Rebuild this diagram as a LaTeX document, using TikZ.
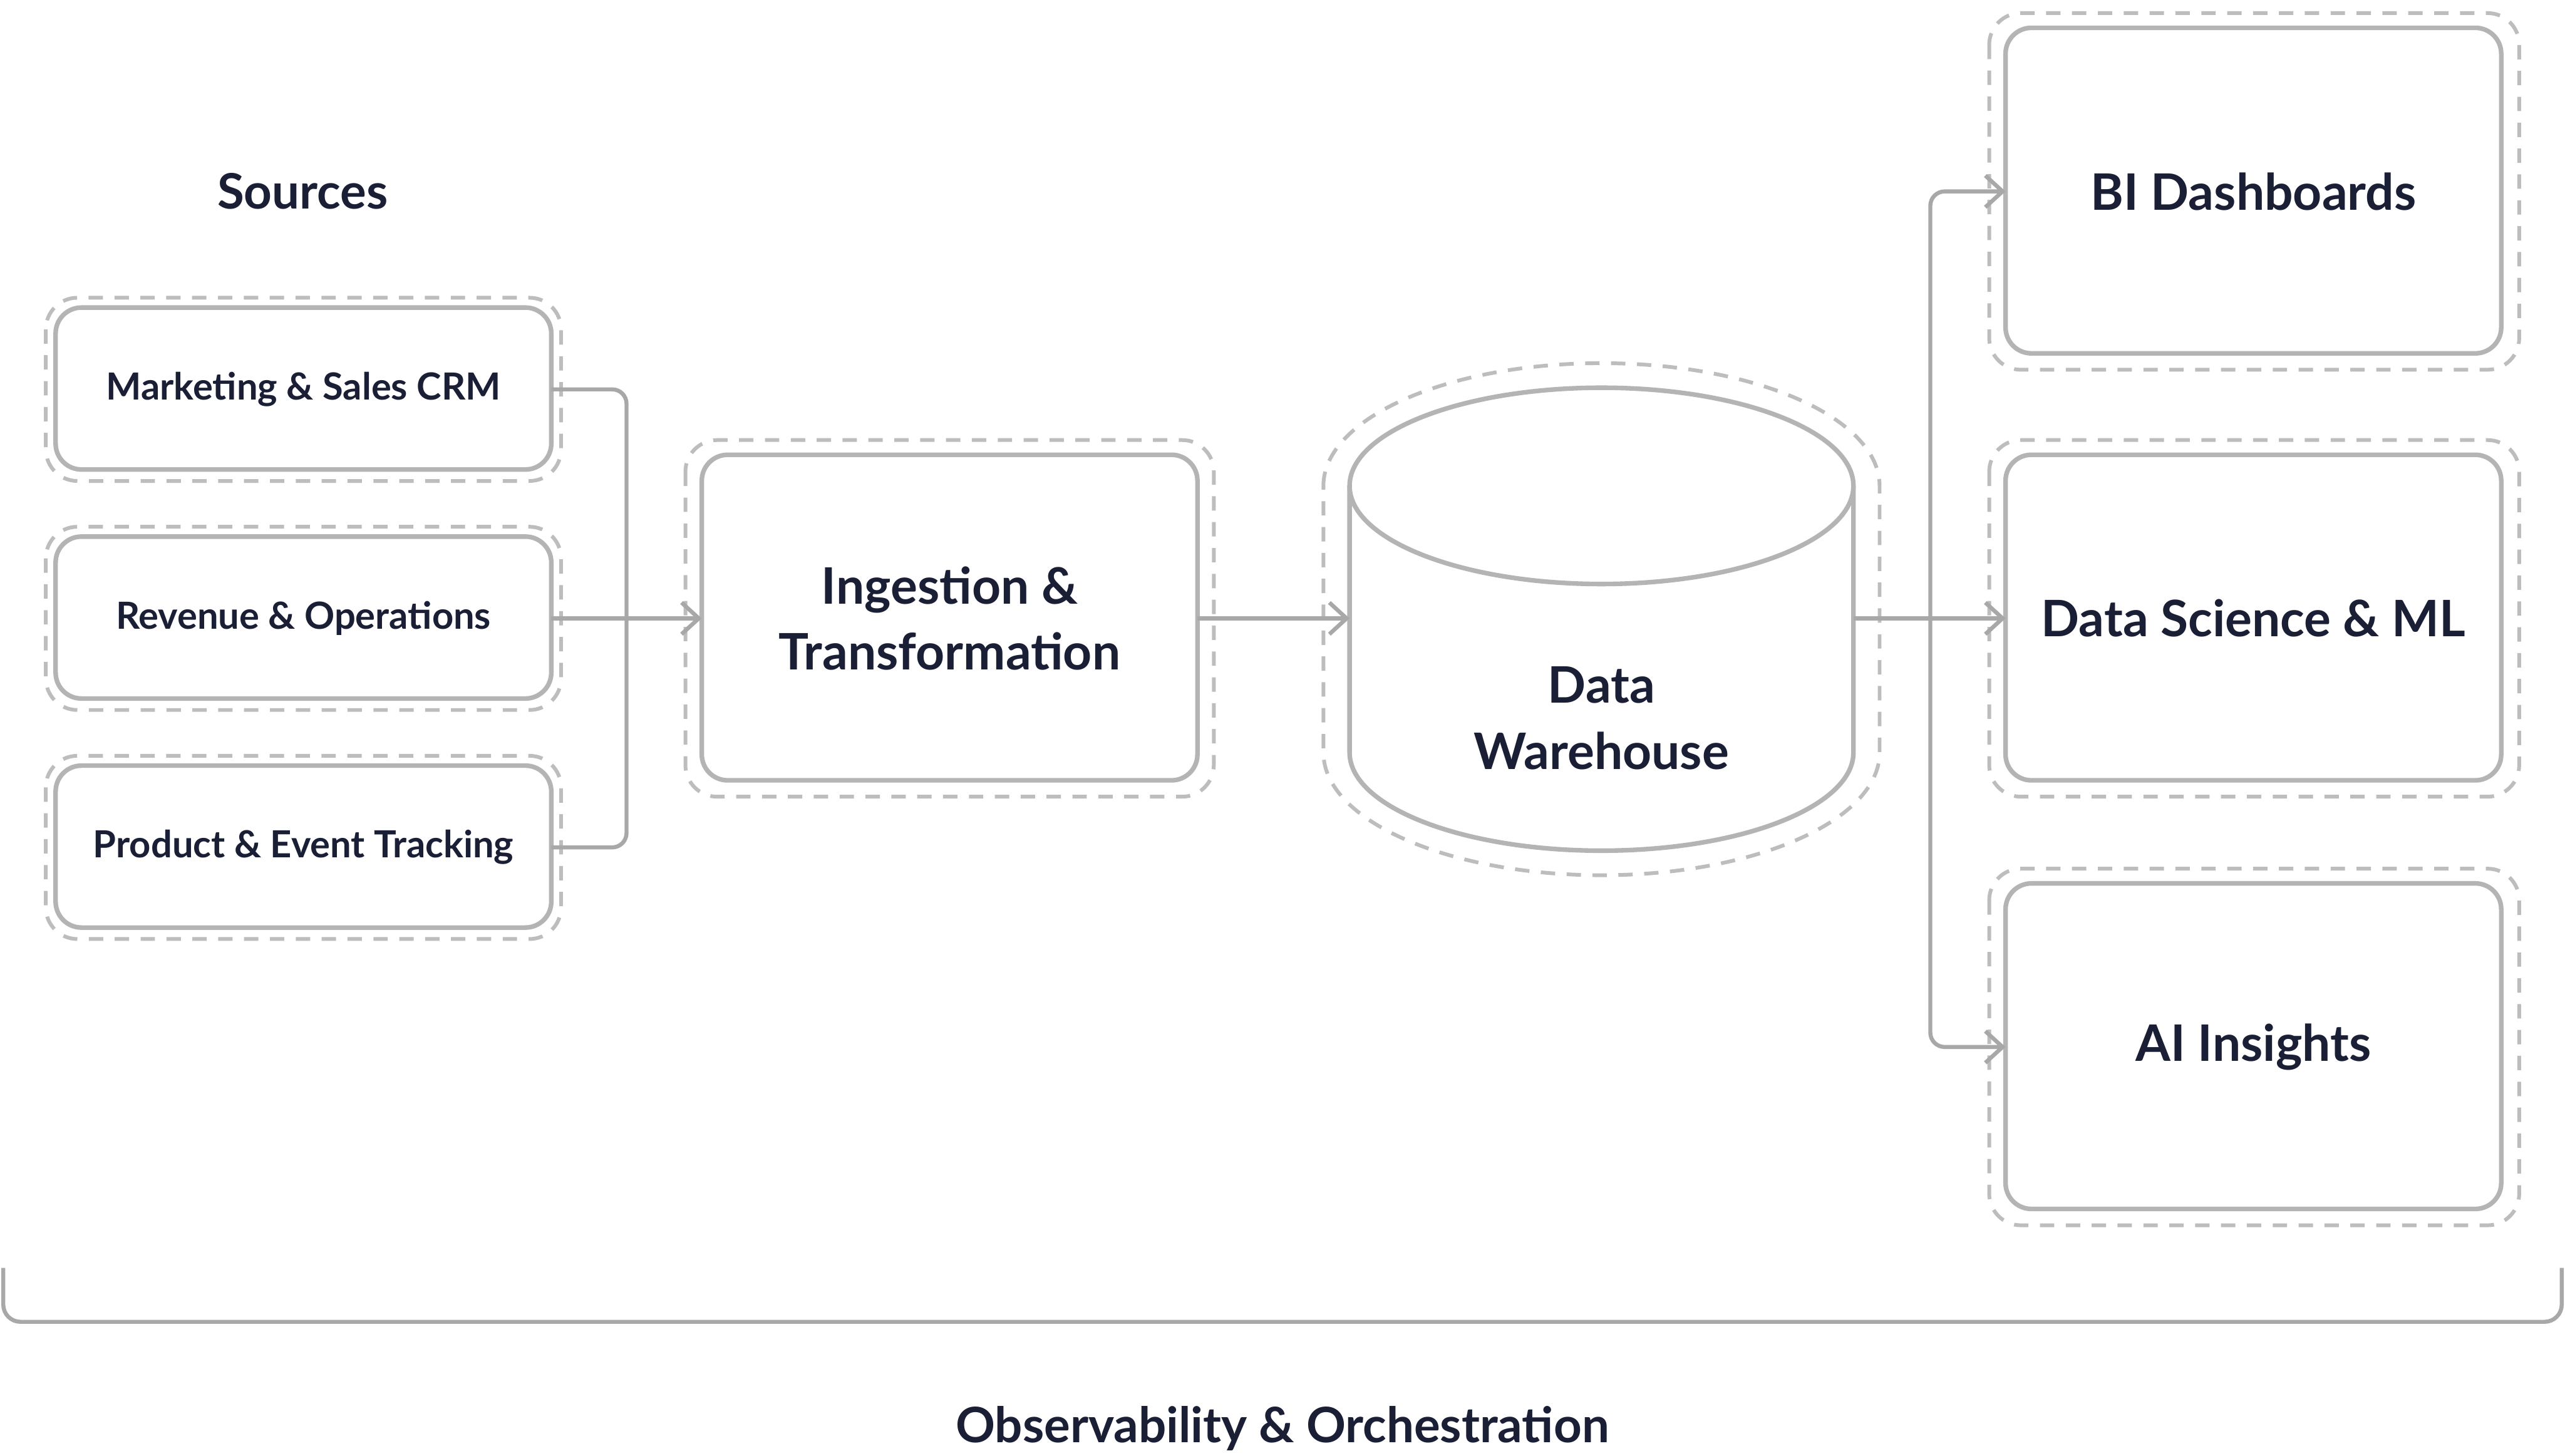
\documentclass[tikz,border=0pt]{standalone}
\usepackage{fontspec}
\setmainfont{Lato}
\usetikzlibrary{arrows.meta}
\definecolor{txt}{HTML}{1A1F36}
\definecolor{bd}{HTML}{B4B4B4}
\definecolor{dsh}{HTML}{BDBDBD}
\definecolor{ln}{HTML}{A8A8A8}
\begin{document}
\begin{tikzpicture}[x=0.02cm,y=-0.02cm,
  box/.style={draw=bd,line width=1.6pt,rounded corners=9pt,fill=white},
  dbox/.style={draw=dsh,line width=1.3pt,dash pattern=on 5pt off 4pt,rounded corners=11pt},
  conn/.style={draw=ln,line width=1.4pt,rounded corners=5pt},
  arr/.style={conn,-{Straight Barb[length=6pt,width=11pt]}},
  sl/.style={font=\fontsize{13}{15}\selectfont\bfseries,text=txt},
  bl/.style={font=\fontsize{17.5}{23}\selectfont\bfseries,text=txt,align=center}]
\fill[white] (0,0) rectangle (1568,890);
\useasboundingbox (0,0) rectangle (1568,890);
\node[font=\fontsize{17}{20}\selectfont\bfseries,text=txt] (src) at (185,117) {Sources};
% sources
\foreach \n/\y/\t in {s1/238/Marketing \& Sales CRM,s2/378/Revenue \& Operations,s3/518/Product \& Event Tracking}{
  \draw[dbox] (28,\y-56) rectangle (343,\y+56);
  \draw[box] (34,\y-50) rectangle (337,\y+49);
  \node[sl] (\n) at (185.5,\y) {\t};
  \coordinate (\n e) at (337,\y);
}
% ingestion
\draw[dbox] (419,269) rectangle (742,487);
\draw[box] (429,278) rectangle (732,477);
\node[bl] (ing) at (580.5,378) {Ingestion \&\\Transformation};
\coordinate (ingw) at (429,378);
\coordinate (inge) at (732,378);
% cylinder
\draw[dsh,line width=1.3pt,dash pattern=on 5pt off 4pt] (809,297) arc[start angle=180,end angle=360,x radius=170,y radius=75] -- (1149,460) arc[start angle=0,end angle=180,x radius=170,y radius=75] -- cycle;
\draw[bd,line width=1.6pt,fill=white] (825,297) -- (825,460) arc[start angle=180,end angle=0,x radius=154,y radius=60] -- (1133,297);
\draw[bd,line width=1.6pt,fill=white] (979,297) ellipse [x radius=154,y radius=60];
\node[bl] (dw) at (979,439) {Data\\Warehouse};
\coordinate (dww) at (825,378);
\coordinate (dwe) at (1133,378);
% outputs
\foreach \n/\y/\t in {o1/117/BI Dashboards,o2/378/Data Science \& ML,o3/640/AI Insights}{
  \draw[dbox] (1216,\y-109) rectangle (1540,\y+109);
  \draw[box] (1226,\y-100) rectangle (1529,\y+99);
  \node[bl] (\n) at (1377.5,\y) {\t};
  \coordinate (\n w) at (1226,\y);
}
% connectors
\draw[conn] (s1e) -| (383,378);
\draw[conn] (s3e) -| (383,378);
\draw[arr] (s2e) -- (ingw);
\draw[arr] (inge) -- (dww);
\draw[arr] (dwe) -- (o2w);
\draw[arr] (1180,378) |- (o1w);
\draw[arr] (1180,378) |- (o3w);
% bracket
\draw[draw=ln,line width=1.4pt,rounded corners=6pt] (2,775) -- (2,808) -- (1566,808) -- (1566,775);
\node[font=\fontsize{17}{20}\selectfont\bfseries,text=txt] (obs) at (784,873) {Observability \& Orchestration};
\end{tikzpicture}
\end{document}
